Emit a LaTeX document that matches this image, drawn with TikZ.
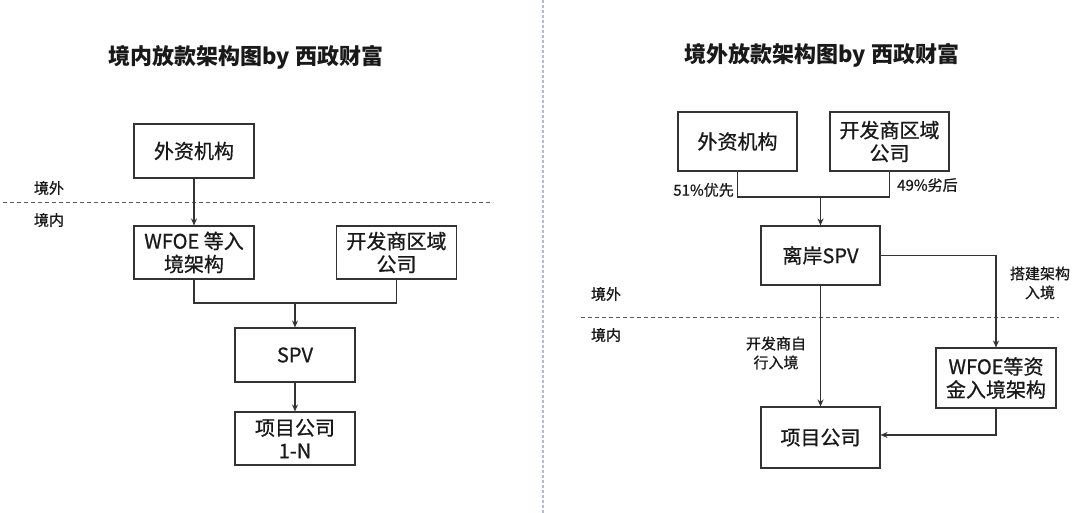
\documentclass[tikz,border=0pt]{standalone}
\usepackage{fontspec}
\setmainfont{Noto Sans CJK SC}
\newfontfamily\medfont{Noto Sans CJK SC}[FakeBold=0.7]
\usetikzlibrary{arrows.meta}

\begin{document}
\begin{tikzpicture}[x=1pt,y=-1pt,
    box/.style={draw=black!80,line width=1.1pt,minimum width=120pt,align=center,
                font=\medfont\fontsize{20}{23}\selectfont,text=black!90,inner sep=0pt},
    lbl/.style={align=center,font=\medfont\fontsize{15}{19}\selectfont,text=black!90,inner sep=0pt},
    ttl/.style={font=\fontsize{22}{26}\selectfont\bfseries,text=black!90},
    conn/.style={draw=black!80,line width=1.1pt},
    arr/.style={conn,-{Stealth[length=7pt,width=6pt]}},
    border/.style={draw=black!65,line width=0.9pt,dash pattern=on 4pt off 3pt},
]
\useasboundingbox (0,0) rectangle (1080,513);
\fill[white] (0,0) rectangle (1080,513);

% middle separator
\draw[draw={rgb,255:red,176;green,190;blue,212},line width=1.4pt,dash pattern=on 3pt off 2pt] (543,0) -- (543,513);

% ---- onshore lending (left)
\node[ttl] (lt) at (246,57) {境内放款架构图by 西政财富};

\node[box,minimum height=54pt] (lwz) at (194,151) {外资机构};
\node[box,minimum height=53pt] (lwfoe) at (194,252.5) {WFOE 等入\\境架构};
\node[box,minimum height=53pt] (ldev) at (396.5,252.5) {开发商区域\\公司};
\node[box,minimum height=54pt] (lspv) at (295,355) {SPV};
\node[box,minimum height=53pt] (lxm) at (295,438.5) {项目公司\\1-N};

\node[lbl] (lout) at (49,188) {境外};
\node[lbl] (lin) at (49,220) {境内};
\coordinate (lb1) at (3,202);
\coordinate (lb2) at (493,202);
\draw[border] (lb1) -- (lb2);

\coordinate (ljoin) at (0,303);
\draw[arr] (lwz) -- (lwfoe);
\draw[conn] (lwfoe.south) -- (lwfoe.south |- ljoin) -- (ldev.south |- ljoin) -- (ldev.south);
\draw[arr] (lspv.north |- ljoin) -- (lspv.north);
\draw[arr] (lspv) -- (lxm);

% ---- offshore lending (right)
\node[ttl] (rt) at (822,55) {境外放款架构图by 西政财富};

\node[box,minimum width=119pt,minimum height=59pt] (rwz) at (737.5,141.5) {外资机构};
\node[box,minimum width=119pt,minimum height=59pt] (rdev) at (889.5,141.5) {开发商区域\\公司};
\node[box,minimum width=119pt,minimum height=59pt] (rspv) at (820.5,255.5) {离岸SPV};
\node[box,minimum width=120pt,minimum height=60pt] (rwfoe) at (996,378) {WFOE等资\\金入境架构};
\node[box,minimum width=119pt,minimum height=61pt] (rxm) at (820.5,437.5) {项目公司};

\node[lbl,anchor=east] (p51) at (734,190) {51\%优先};
\node[lbl,anchor=west] (p49) at (897,185) {49\%劣后};
\node[lbl] (rout) at (606,294) {境外};
\node[lbl] (rin) at (606,335) {境内};
\node[lbl] (dj) at (1040,283) {搭建架构\\入境};
\node[lbl] (zx) at (776,353) {开发商自\\行入境};
\coordinate (rb1) at (581,317);
\coordinate (rb2) at (1059,317);
\draw[border] (rb1) -- (rb2);

\coordinate (rjoin) at (0,197);
\coordinate (rbot) at (0,435);
\draw[conn] (rwz.south) -- (rwz.south |- rjoin) -- (rdev.south |- rjoin) -- (rdev.south);
\draw[arr] (rspv.north |- rjoin) -- (rspv.north);
\draw[arr] (rspv.east) -| (rwfoe.north);
\draw[arr] (rspv) -- (rxm);
\draw[arr] (rwfoe.south) -- (rwfoe.south |- rbot) -- (rxm.east |- rbot);
\end{tikzpicture}
\end{document}
